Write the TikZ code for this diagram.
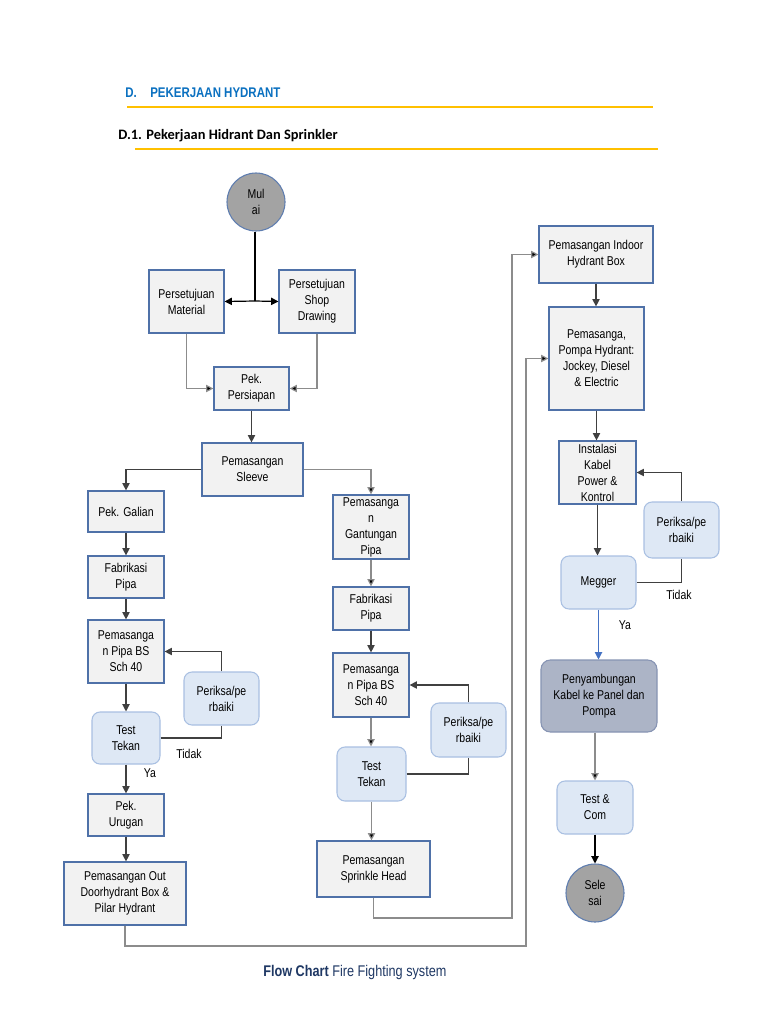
\documentclass[tikz,border=0pt]{standalone}
\usepackage{fontspec}
\setmainfont{Liberation Sans}[FakeStretch=0.82]
\newfontfamily\calib{Carlito}
\usetikzlibrary{arrows.meta}
\definecolor{boxfill}{HTML}{F2F2F2}
\definecolor{boxline}{HTML}{4F71A8}
\definecolor{lbfill}{HTML}{DEE8F5}
\definecolor{lbline}{HTML}{A9C0E2}
\definecolor{circfill}{HTML}{A3A3A3}
\definecolor{circline}{HTML}{5E7DB0}
\definecolor{penfill}{HTML}{ACB4C6}
\definecolor{penline}{HTML}{8794B3}
\definecolor{hblue}{HTML}{0A70C0}
\definecolor{gold}{HTML}{FFC000}
\definecolor{navy}{HTML}{1F3864}
\definecolor{conn}{HTML}{404040}
\definecolor{connlight}{HTML}{8C8C8C}
\definecolor{bluearr}{HTML}{4472C4}
\newcommand\mkbox[7]{\node[#6,minimum width={(#4-#2)*0.75pt},minimum height={(#5-#3)*0.75pt}] (#1) at ({(#2+#4)/2},{(#3+#5)/2}) {#7};}
\begin{document}
\begin{tikzpicture}[x=0.75pt,y=-0.75pt,
  every node/.style={inner sep=1pt,align=center,font=\fontsize{9.6pt}{12pt}\selectfont},
  rbox/.style={draw=boxline,fill=boxfill,line width=0.9pt},
  lbox/.style={draw=lbline,fill=lbfill,line width=0.8pt,rounded corners=6pt},
  pbox/.style={draw=penline,fill=penfill,line width=0.8pt,rounded corners=7pt},
  circ/.style={circle,draw=circline,fill=circfill,line width=0.8pt,minimum size={58*0.75pt}},
  arr/.style={draw=conn,line width=0.8pt,-{Triangle[length=5.5pt,width=5.5pt]}},
  ln/.style={draw=conn,line width=0.8pt},
  arrl/.style={draw=connlight,line width=0.9pt,-{Triangle[length=5.5pt,width=5.5pt,fill=black]}},
  lbl/.style={inner sep=0pt,font=\fontsize{9.6pt}{12pt}\selectfont}]
\useasboundingbox[fill=white] (0,0) rectangle (768,1024);

% headings
\node[anchor=base west,inner sep=0pt,text=hblue,font=\fontsize{10.5pt}{12pt}\selectfont\bfseries] (hd) at (125,98) {D.};
\node[anchor=base west,inner sep=0pt,text=hblue,font=\fontsize{10.5pt}{12pt}\selectfont\bfseries] (ht) at (150,98) {PEKERJAAN HYDRANT};
\coordinate (g1a) at (127,107); \coordinate (g1b) at (653,107);
\draw[gold,line width=1.5pt] (g1a) -- (g1b);
\node[anchor=base west,inner sep=0pt,font=\calib\fontsize{10.8pt}{12pt}\selectfont\bfseries] (sub) at (118,139) {D.1. Pekerjaan Hidrant Dan Sprinkler};
\coordinate (g2a) at (135,149); \coordinate (g2b) at (658,149);
\draw[gold,line width=0.9pt] (g2a) -- (g2b);

% nodes
\node[circ] (mulai) at (256,202) {Mul\\ai};
\mkbox{mat}{149}{270}{224}{333}{rbox}{Persetujuan\\Material}
\mkbox{shop}{279}{270}{355}{333}{rbox}{Persetujuan\\Shop\\Drawing}
\mkbox{pers}{214}{367}{289}{410}{rbox}{Pek.\\Persiapan}
\mkbox{sleeve}{202}{443}{303}{496}{rbox}{Pemasangan\\Sleeve}

\mkbox{galian}{88}{491}{164}{532}{rbox}{Pek. Galian}
\mkbox{fab1}{88}{556}{164}{598}{rbox}{Fabrikasi\\Pipa}
\mkbox{pipa1}{88}{620}{164}{683}{rbox}{Pemasanga\\n Pipa BS\\Sch 40}
\mkbox{per1}{184}{672}{259}{725}{lbox}{Periksa/pe\\rbaiki}
\mkbox{test1}{92}{712}{160}{764}{lbox}{Test\\Tekan}
\mkbox{urug}{88}{794}{164}{836}{rbox}{Pek.\\Urugan}
\mkbox{out}{64}{862}{186}{925}{rbox}{Pemasangan Out\\Doorhydrant Box \&\\Pilar Hydrant}

\mkbox{gant}{333}{495}{409}{559}{rbox}{Pemasanga\\n\\Gantungan\\Pipa}
\mkbox{fab2}{333}{587}{409}{630}{rbox}{Fabrikasi\\Pipa}
\mkbox{pipa2}{333}{653}{409}{717}{rbox}{Pemasanga\\n Pipa BS\\Sch 40}
\mkbox{per2}{431}{703}{506}{757}{lbox}{Periksa/pe\\rbaiki}
\mkbox{test2}{337}{747}{406}{801}{lbox}{Test\\Tekan}
\mkbox{spr}{317}{841}{430}{897}{rbox}{Pemasangan\\Sprinkle Head}

\mkbox{ind}{539}{226}{653}{283}{rbox}{Pemasangan Indoor\\Hydrant Box}
\mkbox{pompa}{549}{307}{644}{410}{rbox}{Pemasanga,\\Pompa Hydrant:\\Jockey, Diesel\\\& Electric}
\mkbox{inst}{559}{441}{636}{504}{rbox}{Instalasi\\Kabel\\Power \&\\Kontrol}
\mkbox{per3}{644}{502}{719}{558}{lbox}{Periksa/pe\\rbaiki}
\mkbox{meg}{561}{556}{636}{609}{lbox}{Megger}
\mkbox{pen}{541}{660}{657}{732}{pbox}{Penyambungan\\Kabel ke Panel dan\\Pompa}
\mkbox{tc}{557}{781}{633}{834}{lbox}{Test \&\\Com}
\node[circ] (sel) at (595,893) {Sele\\sai};

% labels
\node[lbl] (t1) at (189,754) {Tidak};
\node[lbl] (y1) at (150,773) {Ya};
\node[lbl] (t3) at (679,595) {Tidak};
\node[lbl] (y3) at (625,625) {Ya};

\node[anchor=base west,inner sep=0pt,text=navy,font=\fontsize{11.6pt}{14pt}\selectfont] (cap) at (263,976) {\textbf{Flow Chart} Fire Fighting system};

% connectors
\coordinate (j1) at (255,301);
\draw[line width=0.9pt,black] (mulai.south -| j1) -- (j1);
\draw[line width=0.9pt,black,-{Triangle[length=5.5pt,width=5.5pt]}] (j1) -- (mat.east);
\draw[line width=0.9pt,black,-{Triangle[length=5.5pt,width=5.5pt]}] (j1) -- (shop.west);
\draw[arrl] (mat.south) |- (pers.west);
\draw[arrl] (shop.south) |- (pers.east);
\draw[arr] (pers.south) -- (pers.south |- sleeve.north);
\draw[arr] (sleeve.west) -| (galian.north);
\draw[arrl] (sleeve.east) -| (gant.north);

\draw[arr] (galian) -- (fab1);
\draw[arr] (fab1) -- (pipa1);
\draw[arr] (pipa1) -- (test1);
\draw[arr] (test1) -- (urug);
\draw[arr] (urug.south) -- (urug.south |- out.north);
\draw[arr] (per1.north) |- (pipa1.east);
\draw[ln] (test1.east) -| (per1.south);

\draw[arrl] (gant) -- (fab2);
\draw[arr] (fab2) -- (pipa2);
\draw[arrl] (pipa2.south) -- (pipa2.south |- test2.north);
\draw[arrl] (test2.south) -- (test2.south |- spr.north);
\draw[arr] (per2.north) |- (pipa2.east);
\draw[ln] (test2.east) -| (per2.south);

\coordinate (c1) at (512,918);
\coordinate (c2) at (526,946);
\draw[arrl] (spr.south) |- (c1) |- (ind.west);
\draw[arrl] (out.south) |- (c2) |- (pompa.west);

\draw[arr] (ind.south) -- (ind.south |- pompa.north);
\draw[arr] (pompa.south) -- (pompa.south |- inst.north);
\draw[arr] (inst.south) -- (inst.south |- meg.north);
\draw[arr] (per3.north) |- (inst.east);
\draw[ln] (meg.east) -| (per3.south);
\draw[draw=bluearr,line width=0.8pt,-{Triangle[length=5.5pt,width=5.5pt]}] (meg.south) -- (meg.south |- pen.north);
\draw[arrl] (pen.south -| tc.north) -- (tc.north);
\draw[line width=0.9pt,black,-{Triangle[length=5.5pt,width=5.5pt]}] (tc.south) -- (sel.north);
\end{tikzpicture}
\end{document}
